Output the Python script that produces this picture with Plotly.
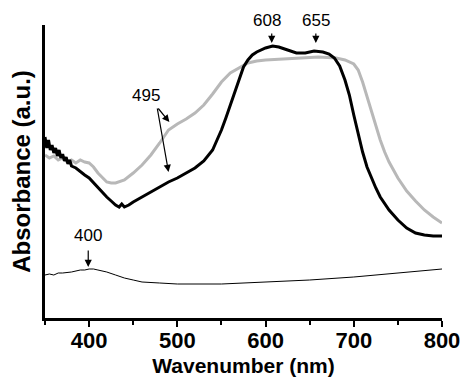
import plotly.graph_objects as go

# Black curve (thick)
black_nm = [350, 352, 354, 356, 358, 360, 362, 364, 366, 368, 370, 372, 374, 376, 378, 380, 385, 390, 395, 400,
            405, 410, 415, 420, 425, 430, 434, 437, 440, 445, 450, 460, 470, 480, 490, 500, 510, 520, 530, 540,
            545, 550, 555, 560, 565, 570, 575, 580, 585, 590, 600, 608, 615, 625, 635, 645, 655, 665, 672, 678,
            684, 690, 695, 700, 705, 710, 715, 720, 725, 730, 735, 740, 750, 760, 770, 780, 790, 800]
black_abs = [181, 170, 178, 168, 173, 165, 170, 162, 168, 160, 164, 157, 161, 154, 158, 152, 150, 146, 143, 140,
             135, 130, 125, 121, 117, 113, 111, 114, 111, 113, 116, 121, 126, 131, 136, 140, 145, 150, 157, 168,
             178, 188, 200, 213, 226, 240, 251, 258, 263, 266, 270, 272, 271, 268, 265, 265, 267, 266, 264, 260,
             252, 238, 223, 203, 183, 166, 151, 140, 130, 121, 114, 108, 98, 90, 85, 83, 82, 82]

# Gray curve
gray_nm = [350, 355, 360, 365, 370, 375, 380, 385, 390, 395, 400, 405, 410, 415, 420, 425, 430, 440, 450, 460,
           470, 480, 490, 500, 510, 520, 530, 540, 550, 560, 570, 580, 590, 600, 620, 640, 660, 680, 690, 700,
           705, 710, 715, 720, 725, 730, 735, 740, 750, 760, 770, 780, 790, 800]
gray_abs = [163, 160, 162, 158, 160, 156, 158, 155, 158, 156, 155, 151, 145, 140, 136, 135, 135, 138, 145, 153,
            163, 175, 188, 194, 199, 205, 213, 224, 236, 245, 250, 255, 257, 258, 259, 260, 261, 260, 258, 254,
            248, 236, 221, 206, 191, 178, 166, 156, 140, 127, 117, 108, 101, 95]

# Thin curve
thin_nm = [350, 355, 360, 365, 370, 380, 390, 395, 400, 405, 410, 420, 430, 440, 450, 460, 480, 500, 550, 600,
           650, 700, 750, 800]
thin_abs = [43, 44, 43, 45, 45, 46, 48, 48, 49, 49, 48, 46, 43, 40, 38, 36, 35, 34, 34, 36,
            38, 41, 45, 49]

x_ticks = [400, 500, 600, 700, 800]

FONT = "Liberation Sans, Arial, sans-serif"

fig = go.Figure()
fig.add_trace(go.Scatter(x=gray_nm, y=gray_abs, mode="lines",
                         line=dict(color="#b8b8b8", width=3), showlegend=False))
fig.add_trace(go.Scatter(x=black_nm, y=black_abs, mode="lines",
                         line=dict(color="#000000", width=3), showlegend=False))
fig.add_trace(go.Scatter(x=thin_nm, y=thin_abs, mode="lines",
                         line=dict(color="#000000", width=1), showlegend=False))

ann = []
def text_ann(x, y, t, yref="y"):
    ann.append(dict(x=x, y=y, xref="x", yref=yref, text=t, showarrow=False,
                    xanchor="center", yanchor="middle",
                    font=dict(family=FONT, size=17, color="black")))

def arrow_ann(x0, y0, x1, y1):
    ann.append(dict(x=x1, y=y1, ax=x0, ay=y0, xref="x", yref="y", axref="x", ayref="y",
                    text="", showarrow=True, arrowhead=2, arrowsize=1.2, arrowwidth=1.2,
                    arrowcolor="black"))

text_ann(602, 1.017, "608", yref="paper")
arrow_ann(607, 286, 607, 275)
text_ann(657, 1.017, "655", yref="paper")
arrow_ann(657, 286, 657, 275)
text_ann(399, 83, "400")
arrow_ann(399, 69, 399, 51)
text_ann(464, 223, "495")
arrow_ann(477, 211, 491, 196)
arrow_ann(477, 211, 490, 146)

fig.update_layout(
    width=466, height=381,
    margin=dict(l=37, r=32, t=17, b=71, autoexpand=False),
    paper_bgcolor="white", plot_bgcolor="white",
    annotations=ann,
    xaxis=dict(range=[350, 800], showgrid=False, zeroline=False, automargin=False,
               showline=True, linecolor="black", linewidth=3,
               ticks="outside", ticklen=6, tickwidth=2, tickcolor="black",
               tickvals=x_ticks, ticklabelstandoff=-5,
               minor=dict(dtick=50, tick0=350, ticks="outside", ticklen=4, tickwidth=2, tickcolor="black"),
               tickfont=dict(family=FONT, size=22, color="black", weight="bold"),
               title=dict(text="<b>Wavenumber (nm)</b>", standoff=6,
                          font=dict(family=FONT, size=21, color="black"))),
    yaxis=dict(range=[0, 293], showgrid=False, zeroline=False, automargin=False,
               showline=True, linecolor="black", linewidth=3,
               ticks="", showticklabels=False,
               title=dict(text="<b>Absorbance (a.u.)</b>", standoff=10,
                          font=dict(family=FONT, size=24, color="black"))),
)

fig.write_html("out.html")
